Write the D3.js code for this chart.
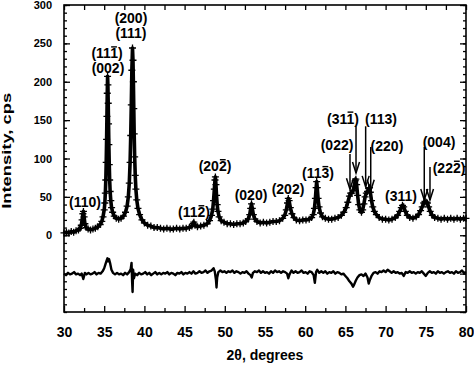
<!DOCTYPE html>
<html>
<head>
<meta charset="utf-8">
<script src="https://cdn.jsdelivr.net/npm/d3@7"></script>
<style>
body { margin: 0; background: #fff; }
text { font-family: "Liberation Sans", Arial, sans-serif; font-weight: bold; fill: #000; }
</style>
</head>
<body>
<svg id="chart" width="474" height="366"></svg>
<script>
// observed pattern, [2θ, intensity in cps]
const observed = [
  [30.0,3],[30.3,4],[30.6,3],[30.9,5],[31.2,4],[31.5,6],[31.8,7],[32.0,9],[32.15,13],[32.25,20],
  [32.35,28],[32.42,31],[32.5,24],[32.6,15],[32.75,10],[33.0,8],[33.3,7],[33.6,8],[33.9,9],[34.2,11],
  [34.5,14],[34.7,18],[34.85,24],[35.0,33],[35.08,42],[35.14,55],[35.2,72],[35.25,95],[35.3,125],[35.34,155],
  [35.38,185],[35.42,207],[35.46,196],[35.5,172],[35.54,145],[35.58,118],[35.63,92],[35.68,72],[35.74,57],[35.82,45],
  [35.92,36],[36.05,30],[36.25,25],[36.5,22],[36.8,21],[37.1,22],[37.4,25],[37.65,30],[37.85,38],[38.0,50],
  [38.12,68],[38.22,95],[38.3,130],[38.37,170],[38.44,215],[38.52,244],[38.58,228],[38.63,200],[38.68,165],[38.73,132],
  [38.79,102],[38.86,78],[38.94,60],[39.05,46],[39.2,35],[39.4,27],[39.7,20],[40.0,16],[40.4,13],[40.8,12],
  [41.2,10],[41.6,10],[42.0,9],[42.4,8],[42.8,9],[43.2,8],[43.6,8],[44.0,9],[44.4,8],[44.8,9],
  [45.2,9],[45.6,10],[45.9,12],[46.05,15],[46.15,17],[46.3,13],[46.6,11],[47.0,12],[47.4,13],[47.8,15],
  [48.1,19],[48.35,26],[48.5,34],[48.6,45],[48.7,60],[48.78,72],[48.83,76],[48.9,66],[48.97,52],[49.05,40],
  [49.15,31],[49.3,24],[49.55,19],[49.9,17],[50.3,15],[50.7,15],[51.1,14],[51.5,15],[51.9,15],[52.3,16],
  [52.6,18],[52.9,21],[53.1,27],[53.22,35],[53.32,41],[53.42,35],[53.55,27],[53.75,21],[54.0,18],[54.4,16],
  [54.8,17],[55.2,16],[55.6,17],[56.0,18],[56.4,18],[56.8,19],[57.2,22],[57.45,26],[57.65,33],[57.8,42],
  [57.9,48],[58.0,45],[58.15,36],[58.35,28],[58.6,23],[58.9,20],[59.3,19],[59.7,20],[60.1,20],[60.5,21],
  [60.8,23],[61.0,27],[61.15,35],[61.27,48],[61.36,62],[61.43,70],[61.5,62],[61.6,48],[61.72,37],[61.9,29],
  [62.15,24],[62.5,22],[62.9,21],[63.3,21],[63.7,22],[64.1,23],[64.5,26],[64.8,30],[65.1,36],[65.3,43],
  [65.5,51],[65.65,55],[65.8,55],[65.95,58],[66.1,64],[66.22,71],[66.3,73],[66.4,66],[66.52,52],[66.65,40],
  [66.8,33],[67.0,30],[67.15,33],[67.3,41],[67.45,50],[67.6,55],[67.75,57],[67.9,61],[68.0,62],[68.1,56],
  [68.25,45],[68.4,37],[68.6,31],[68.85,27],[69.2,23],[69.6,21],[70.0,21],[70.4,20],[70.8,21],[71.2,23],
  [71.5,26],[71.75,31],[71.95,36],[72.1,39],[72.25,37],[72.45,31],[72.7,26],[73.0,23],[73.4,22],[73.8,24],
  [74.1,27],[74.35,32],[74.55,37],[74.75,42],[74.9,44],[75.05,43],[75.2,42],[75.35,37],[75.55,31],[75.8,26],
  [76.1,23],[76.5,22],[76.9,21],[77.3,22],[77.7,21],[78.1,22],[78.5,21],[78.9,22],[79.3,21],[79.7,22],
  [80.0,22]
];

// difference curve (observed - calculated), plotted with an offset below zero
const difference = [
  [30.0,-50],[30.25,-52],[30.5,-49],[30.75,-51],[31.0,-50],[31.25,-48],[31.5,-51],[31.75,-50],[32.0,-52],[32.2,-50],
  [32.4,-57],[32.6,-49],[32.8,-51],[33.05,-49],[33.3,-51],[33.55,-50],[33.8,-48],[34.05,-51],[34.3,-49],[34.55,-50],
  [34.8,-47],[35.0,-43],[35.15,-38],[35.3,-33],[35.4,-30],[35.5,-34],[35.6,-31],[35.75,-37],[35.9,-45],[36.1,-49],
  [36.35,-51],[36.6,-49],[36.85,-51],[37.1,-50],[37.35,-52],[37.6,-49],[37.85,-51],[38.1,-48],[38.3,-44],[38.4,-36],
  [38.47,-60],[38.53,-74],[38.6,-45],[38.7,-56],[38.85,-50],[39.1,-52],[39.35,-49],[39.6,-51],[39.85,-50],[40.1,-48],
  [40.35,-51],[40.6,-49],[40.85,-52],[41.1,-50],[41.35,-48],[41.6,-51],[41.85,-49],[42.1,-51],[42.35,-49],[42.6,-50],
  [42.85,-48],[43.1,-51],[43.35,-49],[43.6,-50],[43.85,-52],[44.1,-49],[44.35,-50],[44.6,-48],[44.85,-51],[45.1,-49],
  [45.35,-50],[45.6,-48],[45.85,-50],[46.1,-47],[46.35,-50],[46.6,-49],[46.85,-47],[47.1,-49],[47.35,-48],[47.6,-46],
  [47.85,-49],[48.1,-47],[48.35,-46],[48.6,-43],[48.75,-47],[48.9,-58],[48.97,-68],[49.05,-55],[49.2,-48],[49.45,-46],
  [49.7,-48],[49.95,-47],[50.2,-49],[50.45,-47],[50.7,-48],[50.95,-46],[51.2,-49],[51.45,-47],[51.7,-48],[51.95,-50],
  [52.2,-48],[52.45,-49],[52.7,-47],[52.95,-50],[53.2,-52],[53.35,-55],[53.5,-49],[53.75,-47],[54.0,-48],[54.25,-46],
  [54.5,-49],[54.75,-47],[55.0,-49],[55.25,-48],[55.5,-50],[55.75,-47],[56.0,-49],[56.25,-46],[56.5,-48],[56.75,-47],
  [57.0,-49],[57.25,-47],[57.5,-48],[57.75,-50],[57.9,-56],[58.05,-51],[58.3,-46],[58.55,-49],[58.8,-47],[59.05,-49],
  [59.3,-48],[59.55,-46],[59.8,-49],[60.05,-48],[60.3,-50],[60.55,-47],[60.8,-48],[61.05,-52],[61.2,-62],[61.35,-48],
  [61.5,-45],[61.75,-49],[62.0,-47],[62.25,-49],[62.5,-47],[62.75,-50],[63.0,-48],[63.25,-49],[63.5,-47],[63.75,-50],
  [64.0,-48],[64.25,-49],[64.5,-51],[64.75,-50],[65.0,-53],[65.25,-56],[65.5,-60],[65.75,-63],[65.95,-67],[66.1,-64],
  [66.3,-59],[66.5,-55],[66.75,-52],[67.0,-51],[67.25,-53],[67.5,-50],[67.75,-55],[67.9,-63],[68.05,-58],[68.25,-53],
  [68.5,-49],[68.75,-48],[69.0,-50],[69.25,-47],[69.5,-48],[69.75,-46],[70.0,-48],[70.25,-45],[70.5,-47],[70.75,-49],
  [71.0,-47],[71.25,-49],[71.5,-48],[71.75,-50],[72.0,-49],[72.25,-53],[72.5,-48],[72.75,-49],[73.0,-47],[73.25,-49],
  [73.5,-48],[73.75,-50],[74.0,-48],[74.25,-49],[74.5,-47],[74.75,-50],[75.0,-53],[75.25,-49],[75.5,-47],[75.75,-49],
  [76.0,-48],[76.25,-50],[76.5,-47],[76.75,-49],[77.0,-48],[77.25,-50],[77.5,-48],[77.75,-47],[78.0,-49],[78.25,-48],
  [78.5,-50],[78.75,-47],[79.0,-49],[79.25,-48],[79.5,-46],[79.75,-49],[80.0,-48]
];

const xTicks = [30, 35, 40, 45, 50, 55, 60, 65, 70, 75, 80];
const yTicks = [0, 50, 100, 150, 200, 250, 300];

// reflection labels: digits, index of barred digit (-1 = none), anchor in data units
const peakLabels = [
  { hkl: "200", bar: -1, x: 38.33, y: 283 },
  { hkl: "111", bar: -1, x: 38.33, y: 263 },
  { hkl: "111", bar: 2,  x: 35.35, y: 237 },
  { hkl: "002", bar: -1, x: 35.47, y: 218 },
  { hkl: "110", bar: -1, x: 32.61, y: 43 },
  { hkl: "112", bar: 2,  x: 46.17, y: 30 },
  { hkl: "202", bar: 2,  x: 48.78, y: 90 },
  { hkl: "020", bar: -1, x: 53.26, y: 52 },
  { hkl: "202", bar: -1, x: 57.86, y: 60 },
  { hkl: "113", bar: 2,  x: 61.59, y: 81 },
  { hkl: "022", bar: -1, x: 63.96, y: 117 },
  { hkl: "311", bar: 2,  x: 64.71, y: 152 },
  { hkl: "113", bar: -1, x: 69.43, y: 152 },
  { hkl: "220", bar: -1, x: 70.17, y: 116 },
  { hkl: "004", bar: -1, x: 76.64, y: 122 },
  { hkl: "222", bar: 2,  x: 77.89, y: 88 },
  { hkl: "311", bar: -1, x: 71.92, y: 51 }
];

// arrows: 2θ, start and tip intensity
const arrows = [
  { x: 65.57, y0: 106, y1: 60 },
  { x: 66.32, y0: 142, y1: 81 },
  { x: 67.52, y0: 142, y1: 63 },
  { x: 68.15, y0: 115, y1: 58 },
  { x: 74.81, y0: 115, y1: 46 },
  { x: 75.52, y0: 89,  y1: 46 }
];

const svg = d3.select("#chart");
const margin = { left: 64, right: 8, top: 5, bottom: 54 };
const W = 474, H = 366;

const x = d3.scaleLinear().domain([30, 80]).range([margin.left, W - margin.right]);
const y = d3.scaleLinear().domain([-100, 300]).range([H - margin.bottom, margin.top]);

function styleAxis(g, size) {
  g.select(".domain").remove();
  g.selectAll("line").attr("stroke", "#000").attr("stroke-width", 1.3);
  g.attr("font-family", null).attr("font-size", size);
}

// bottom axis (ticks inward)
svg.append("g").attr("transform", `translate(0,${y(-100)})`)
  .call(d3.axisBottom(x).tickValues(d3.range(32.5, 80, 5)).tickSize(-4).tickFormat(""))
  .call(g => styleAxis(g, 14));
svg.append("g").attr("transform", `translate(0,${y(-100)})`)
  .call(d3.axisBottom(x).tickValues(xTicks).tickSizeInner(-6).tickSizeOuter(0).tickPadding(15))
  .call(g => styleAxis(g, 14));

// top axis
svg.append("g").attr("transform", `translate(0,${y(300)})`)
  .call(d3.axisTop(x).tickValues(d3.range(30, 80.1, 2.5)).tickSize(-5).tickFormat(""))
  .call(g => styleAxis(g, 14));

// left axis
svg.append("g").attr("transform", `translate(${x(30)},0)`)
  .call(d3.axisLeft(y).tickValues(d3.range(-100, 301, 10)).tickSize(-3).tickFormat(""))
  .call(g => styleAxis(g, 11));
svg.append("g").attr("transform", `translate(${x(30)},0)`)
  .call(d3.axisLeft(y).tickValues(yTicks).tickSizeInner(-6).tickSizeOuter(0).tickPadding(12))
  .call(g => styleAxis(g, 11));

// right axis
svg.append("g").attr("transform", `translate(${x(80)},0)`)
  .call(d3.axisRight(y).tickValues(d3.range(-100, 301, 10)).tickSize(-3).tickFormat(""))
  .call(g => styleAxis(g, 11));
svg.append("g").attr("transform", `translate(${x(80)},0)`)
  .call(d3.axisRight(y).tickValues(d3.range(-100, 301, 50)).tickSize(-6).tickFormat(""))
  .call(g => styleAxis(g, 11));

// frame
svg.append("rect")
  .attr("x", x(30)).attr("y", y(300))
  .attr("width", x(80) - x(30)).attr("height", y(-100) - y(300))
  .attr("fill", "none").attr("stroke", "#000").attr("stroke-width", 1.6);

const line = d3.line().x(d => x(d[0])).y(d => y(d[1]));

// observed profile
svg.append("path").datum(observed)
  .attr("d", line).attr("fill", "none").attr("stroke", "#000")
  .attr("stroke-width", 3.6).attr("stroke-linejoin", "round");

svg.append("g").selectAll("path").data(observed).join("path")
  .attr("transform", d => `translate(${x(d[0])},${y(d[1])})`)
  .attr("d", "M-3.5,0H3.5M0,-3.5V3.5")
  .attr("stroke", "#000").attr("stroke-width", 1.3);

// difference
svg.append("path").datum(difference)
  .attr("d", line).attr("fill", "none").attr("stroke", "#000")
  .attr("stroke-width", 2.4).attr("stroke-linejoin", "round");

// arrows
const ag = svg.append("g").attr("stroke", "#000").attr("stroke-width", 1.5).attr("fill", "none");
arrows.forEach(a => {
  const ax = x(a.x), top = y(a.y0), tip = y(a.y1);
  ag.append("path").attr("d", `M${ax},${top}V${tip}`);
  ag.append("path").attr("d", `M${ax - 3.5},${tip - 11}L${ax},${tip}L${ax + 3.5},${tip - 11}`);
});

// reflection labels
const lg = svg.append("g").attr("font-size", 14);
peakLabels.forEach(p => {
  const t = lg.append("text")
    .attr("x", x(p.x)).attr("y", y(p.y))
    .attr("dy", "0.36em")
    .attr("text-anchor", "middle")
    .text("(" + p.hkl + ")");
  if (p.bar >= 0) {
    const ext = t.node().getExtentOfChar(p.bar + 1);
    lg.append("line")
      .attr("x1", ext.x + 1).attr("x2", ext.x + ext.width - 1)
      .attr("y1", ext.y + 1.5).attr("y2", ext.y + 1.5)
      .attr("stroke", "#000").attr("stroke-width", 1.4);
  }
});

// axis titles
svg.append("text")
  .attr("transform", `translate(10.5,${y(110)}) rotate(-90)`)
  .attr("text-anchor", "middle")
  .attr("font-size", 13)
  .attr("textLength", 116).attr("lengthAdjust", "spacingAndGlyphs")
  .text("Intensity, cps");

svg.append("text")
  .attr("x", (x(30) + x(80)) / 2).attr("y", 360)
  .attr("text-anchor", "middle")
  .attr("font-size", 14)
  .text("2θ, degrees");
</script>
</body>
</html>
